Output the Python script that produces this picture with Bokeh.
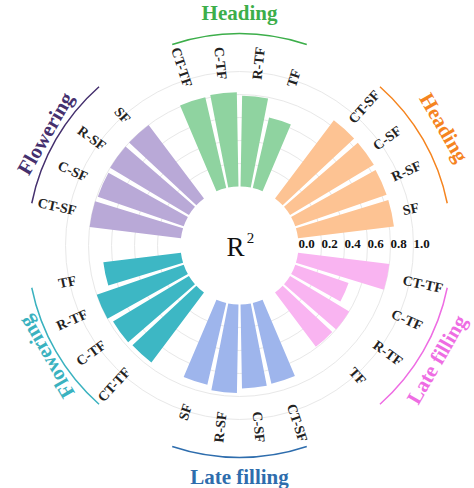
import numpy as np
from bokeh.plotting import figure
from bokeh.models import Range1d
from bokeh.core.properties import value
from bokeh.embed import file_html
from bokeh.resources import INLINE

# bar names, clockwise inside each group
tf_names = ["CT-TF", "C-TF", "R-TF", "TF"]
sf_names = ["CT-SF", "C-SF", "R-SF", "SF"]

# R2 values
heading_tf = [0.81, 0.82, 0.79, 0.63]
heading_sf = [0.85, 0.85, 0.84, 0.84]
late_tf = [0.80, 0.49, 0.60, 0.59]
late_sf = [0.72, 0.73, 0.77, 0.73]
flower_tf = [0.76, 0.77, 0.80, 0.68]
flower_sf = [0.80, 0.79, 0.80, 0.80]

group_titles = ["Heading", "Heading", "Late filling", "Late filling", "Flowering", "Flowering"]
group_values = [heading_tf, heading_sf, late_tf, late_sf, flower_tf, flower_sf]
group_names = [tf_names, sf_names, tf_names, sf_names, tf_names, sf_names]
ticks = [0.0, 0.2, 0.4, 0.6, 0.8, 1.0]

bar_colors = ["#8fd3a0", "#fdc393", "#f9b4f1", "#9eb5ec", "#3db7c4", "#b9a9d7"]
line_colors = ["#3cae4a", "#f5841f", "#ee6de3", "#2e6dad", "#3ab2bf", "#45306e"]

# layout in pixels (y up)
cx, cy = 239, 243
r0, k = 59, 115
lab_r = 167
arc_r = 212
title_r = [233, 236, 228, 231, 223, 224]
title_rot = [0, -60, 60, 0, 120, 60]
serif = value("Liberation Serif")

p = figure(width=474, height=488, x_range=Range1d(0, 474), y_range=Range1d(0, 488),
           output_backend="svg", toolbar_location=None, min_border=0)
p.axis.visible = False
p.grid.visible = False
p.outline_line_color = None

# grid circles
p.circle([cx] * 5, [cy] * 5, radius=[r0 + t * k for t in ticks[1:]],
         fill_color=None, line_color="#e8e8e8", line_width=1)

for g in range(6):
    bc = g * 60
    bears = bc + np.array([-18, -6, 6, 18])
    vals = np.array(group_values[g])
    p.annular_wedge(x=cx, y=cy, inner_radius=r0, outer_radius=r0 + vals * k,
                    start_angle=np.radians(90 - bears - 5), end_angle=np.radians(90 - bears + 5),
                    fill_color=bar_colors[g], line_color=None)

    # bar names
    for b, name in zip(bears, group_names[g]):
        bb = b % 360
        if bb < 180:
            ang, align = 90 - bb, "left"
        else:
            ang, align = 270 - bb, "right"
        p.text(x=[cx + lab_r * np.sin(np.radians(bb))], y=[cy + lab_r * np.cos(np.radians(bb))],
               text=[name], angle=np.radians(ang), text_align=align, text_baseline="middle",
               text_font=serif, text_font_style="bold", text_font_size="14px", text_color="#222222")

    # group arc and title
    p.arc(x=cx, y=cy, radius=arc_r, start_angle=np.radians(90 - bc - 18.5),
          end_angle=np.radians(90 - bc + 18.5), line_color=line_colors[g], line_width=1.5)
    tr = title_r[g]
    p.text(x=[cx + tr * np.sin(np.radians(bc))], y=[cy + tr * np.cos(np.radians(bc))],
           text=[group_titles[g]], angle=np.radians(title_rot[g]), text_align="center",
           text_baseline="middle", text_font=serif, text_font_style="bold",
           text_font_size="21px", text_color=line_colors[g])

# radial tick labels
p.text(x=[cx + r0 + t * k for t in ticks], y=[cy + 2] * len(ticks),
       text=["%.1f" % t for t in ticks], text_align="left", text_baseline="middle",
       text_font=serif, text_font_style="bold", text_font_size="13px", text_color="#111111")

# R^2 in the middle
p.text(x=[235], y=[cy - 1], text=["R"], text_align="center", text_baseline="middle",
       text_font=serif, text_font_size="27px", text_color="#111111")
p.text(x=[250], y=[cy + 8], text=["2"], text_align="center", text_baseline="middle",
       text_font=serif, text_font_size="15px", text_color="#111111")

open("out.html", "w").write(file_html(p, INLINE))
